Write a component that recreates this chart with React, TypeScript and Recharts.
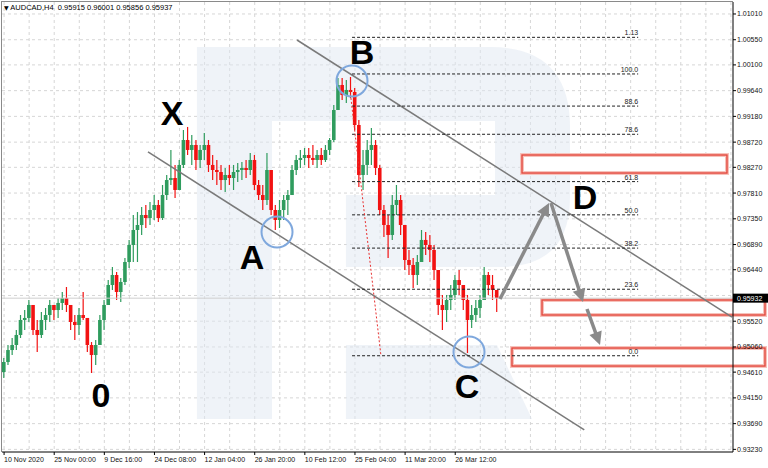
import React from 'react';
import {
  ComposedChart,
  Bar,
  XAxis,
  YAxis,
  CartesianGrid,
  ReferenceLine,
  ReferenceDot,
  ReferenceArea,
} from 'recharts';

const FONT = '"Liberation Sans", Arial, sans-serif';
const RED = '#f21212';
const GREEN = '#2f9c5e';
const ARROW = '#8a8a8a';

// ---- candle data (each candle aggregates several H4 bars) ----
const firstOpen = 0.94612;
const closes = [
  0.94791, 0.95005, 0.95095, 0.95274, 0.95542, 0.95578, 0.9581, 0.95363, 0.95274, 0.95542,
  0.95631, 0.9581, 0.9572, 0.95846, 0.95935, 0.9581, 0.95506, 0.95452, 0.95631, 0.95578,
  0.95095, 0.94916, 0.95095, 0.95542, 0.9581, 0.96167, 0.96346, 0.96042, 0.96221, 0.96578,
  0.96882, 0.9715, 0.97239, 0.97418, 0.97364, 0.97507, 0.97597, 0.97364, 0.97775, 0.98043,
  0.98079, 0.97865, 0.98312, 0.98758, 0.9858, 0.98669, 0.98401, 0.9858, 0.98669, 0.98312,
  0.98222, 0.98186, 0.98043, 0.98133, 0.98079, 0.98186, 0.98222, 0.98258, 0.98222, 0.98401,
  0.97954, 0.97775, 0.97686, 0.98222, 0.97507, 0.97329, 0.97507, 0.97686, 0.97775, 0.98222,
  0.98401, 0.98437, 0.9849, 0.98437, 0.98401, 0.9849, 0.98401, 0.9858, 0.98758, 0.99294,
  0.99741, 0.99562, 0.99652, 0.99616, 0.99026, 0.98133, 0.98312, 0.9858, 0.98669, 0.98258,
  0.97507, 0.97239, 0.97061, 0.97597, 0.97686, 0.97239, 0.96614, 0.96525, 0.96346, 0.96578,
  0.96972, 0.96882, 0.96793, 0.96435, 0.9581, 0.9572, 0.95899, 0.95989, 0.96256, 0.96167,
  0.95899, 0.95542, 0.95631, 0.95756, 0.95899, 0.96346, 0.96167, 0.96078, 0.95937,
];
const highs = [
  0.94863, 0.95095, 0.9522, 0.95363, 0.95631, 0.9572, 0.95899, 0.95756, 0.95542, 0.95685,
  0.95756, 0.95899, 0.9581, 0.95935, 0.96042, 0.96131, 0.9581, 0.95631, 0.95756, 0.96042,
  0.95578, 0.95148, 0.95184, 0.95631, 0.95899, 0.96256, 0.96489, 0.96399, 0.96292, 0.9665,
  0.96972, 0.97418, 0.97471, 0.97561, 0.97597, 0.9765, 0.97775, 0.97686, 0.97954, 0.98133,
  0.9858, 0.98312, 0.98401, 0.98937, 0.98991, 0.98848, 0.98758, 0.98669, 0.98883, 0.98758,
  0.9849, 0.98401, 0.98312, 0.98258, 0.98312, 0.98312, 0.98347, 0.98365, 0.98401, 0.98526,
  0.9849, 0.98043, 0.97954, 0.98526, 0.98222, 0.97597, 0.97686, 0.97775, 0.97865, 0.98312,
  0.9849, 0.9858, 0.98615, 0.98615, 0.98669, 0.9858, 0.98615, 0.98669, 0.98794, 0.99384,
  0.99866, 0.99866, 0.9983, 0.99884, 0.99687, 0.99116, 0.9858, 0.98758, 0.98973, 0.98758,
  0.98312, 0.97597, 0.97418, 0.97775, 0.97954, 0.97775, 0.97239, 0.96793, 0.9665, 0.96703,
  0.9715, 0.97114, 0.97061, 0.96882, 0.96435, 0.95989, 0.95989, 0.96167, 0.96346, 0.96435,
  0.96167, 0.95989, 0.9581, 0.95899, 0.95989, 0.96489, 0.96399, 0.96346, 0.96078,
];
const lows = [
  0.94505, 0.94738, 0.94916, 0.95005, 0.9522, 0.95363, 0.95506, 0.95274, 0.9497, 0.9522,
  0.95363, 0.95506, 0.95542, 0.95578, 0.9572, 0.95685, 0.95363, 0.95184, 0.95274, 0.95542,
  0.9497, 0.94595, 0.94738, 0.95095, 0.95363, 0.9581, 0.96078, 0.95899, 0.95863, 0.96167,
  0.96471, 0.96578, 0.96578, 0.97061, 0.97186, 0.97239, 0.97329, 0.97293, 0.97329, 0.97686,
  0.97954, 0.97722, 0.97865, 0.98258, 0.9849, 0.98312, 0.98222, 0.98258, 0.98401, 0.98186,
  0.98043, 0.97954, 0.97865, 0.97829, 0.97954, 0.97865, 0.98008, 0.98043, 0.98079, 0.98133,
  0.97865, 0.97686, 0.97507, 0.97597, 0.97418, 0.9715, 0.97186, 0.97329, 0.97418, 0.97775,
  0.98133, 0.98258, 0.98312, 0.98258, 0.98312, 0.98258, 0.98312, 0.98365, 0.9849, 0.98722,
  0.99294, 0.99473, 0.99419, 0.99509, 0.98937, 0.97918, 0.97865, 0.98133, 0.98312, 0.98133,
  0.97418, 0.97025, 0.9665, 0.96972, 0.97418, 0.97061, 0.96435, 0.96346, 0.96114, 0.96167,
  0.96614, 0.96703, 0.96578, 0.96256, 0.95631, 0.95363, 0.95506, 0.9572, 0.95899, 0.95989,
  0.9572, 0.94952, 0.95399, 0.95506, 0.95578, 0.95899, 0.95989, 0.95899, 0.95685,
];

// ---- axes ----
const xTickIdx = [0, 12, 24, 36, 48, 60, 72, 84, 96, 108];
const xTickLabels = [
  '10 Nov 2020', '25 Nov 00:00', '9 Dec 16:00', '24 Dec 08:00', '12 Jan 04:00',
  '26 Jan 20:00', '10 Feb 12:00', '25 Feb 04:00', '11 Mar 20:00', '26 Mar 12:00',
];
const gridX = [0, 6, 12, 18, 24, 30, 36, 42, 48, 54, 60, 66, 72, 78, 84, 90, 96, 102, 108, 114, 120, 126, 132, 138, 144, 150, 156, 162, 168, 174];
const yTicks = [
  1.0101, 1.0055, 1.001, 0.9964, 0.9918, 0.9872, 0.9827, 0.9781, 0.9735,
  0.9689, 0.9644, 0.9552, 0.9506, 0.9461, 0.9415, 0.9369, 0.9323,
];
const gridY = [...yTicks, 0.9598];
const currentPrice = 0.95932;
const xDomain: [number, number] = [-0.5, 174.5];
const yDomain: [number, number] = [0.93183, 1.01224];

// ---- analysis overlays (data coordinates: candle index, price) ----
const fibRatios = [1.13, 1.0, 0.886, 0.786, 0.618, 0.5, 0.382, 0.236, 0.0];
const fibLabels = ['1.13', '100.0', '88.6', '78.6', '61.8', '50.0', '38.2', '23.6', '0.0'];
const fibZero = 0.94903;
const fibHundred = 0.99938;
const fibStartIdx = 83.3;
const fibEndIdx = 151.8;

const trendLines = [
  { x1: 34.45, y1: 0.98544, x2: 138.9, y2: 0.9358 },
  { x1: 70.12, y1: 1.00545, x2: 174.26, y2: 0.95595 },
];
const fibDiagonal = { x1: 82.8, y1: 0.99652, x2: 90.23, y2: 0.94898 };
const arrows = [
  { x1: 118.72, y1: 0.95917, x2: 130.45, y2: 0.97632 },
  { x1: 130.93, y1: 0.97632, x2: 138.59, y2: 0.95863 },
  { x1: 139.55, y1: 0.95738, x2: 142.66, y2: 0.95095 },
];
const zones = [
  { x1: 123.99, x2: 173.06, y1: 0.98168, y2: 0.9849 },
  { x1: 128.78, x2: 182.16, y1: 0.95631, y2: 0.95899 },
  { x1: 121.59, x2: 182.16, y1: 0.94719, y2: 0.95041 },
];
const circles = [
  { x: 65.34, y: 0.97114 },
  { x: 83.29, y: 0.99813 },
  { x: 111.3, y: 0.9497 },
];
const waveLabels = [
  { t: '0', x: 23.2, y: 0.94201 },
  { t: 'X', x: 40.2, y: 0.99241 },
  { t: 'A', x: 59.35, y: 0.96667 },
  { t: 'B', x: 85.68, y: 1.00331 },
  { t: 'C', x: 110.82, y: 0.94362 },
  { t: 'D', x: 139.07, y: 0.9774 },
];
const logoBox = { x1: 46.18, x2: 135.48, y1: 0.93772, y2: 1.0042 };

const rows = closes.map((c, i) => {
  const open = i === 0 ? firstOpen : closes[i - 1];
  const high = Math.max(highs[i], open, c);
  const low = Math.min(lows[i], open, c);
  return { i, open, close: c, high, low, range: [low, high] };
});

function Candle(props: any) {
  const { x, y, width, height, payload } = props;
  if (!payload || x == null) return null;
  const top = Math.min(y, y + height);
  const h = Math.abs(height);
  const { open, close, high, low } = payload;
  const k = high - low > 0 ? h / (high - low) : 0;
  const yo = top + (high - open) * k;
  const yc = top + (high - close) * k;
  const color = close >= open ? GREEN : RED;
  const cx = x + width / 2;
  const bt = Math.min(yo, yc);
  const bh = Math.max(1, Math.abs(yc - yo));
  return (
    <g>
      <line x1={cx} x2={cx} y1={top} y2={top + h} stroke={color} strokeWidth={1.2} />
      <rect x={x} y={bt} width={width} height={bh} fill={color} />
    </g>
  );
}

function XTick(props: any) {
  const { x, y, payload } = props;
  const idx = xTickIdx.indexOf(payload.value);
  return (
    <text x={x} y={y + 7} textAnchor="start" fontSize={7} fontFamily={FONT} fill="#111">
      {idx >= 0 ? xTickLabels[idx] : ''}
    </text>
  );
}

function YTick(props: any) {
  const { x, y, payload } = props;
  const v = payload.value as number;
  if (Math.abs(v - currentPrice) < 1e-7) {
    return (
      <g>
        <rect x={x - 4} y={y - 4.5} width={36} height={9} fill="#000" />
        <text x={x} y={y + 2.5} fontSize={7} fontFamily={FONT} fill="#fff">
          {v.toFixed(5)}
        </text>
      </g>
    );
  }
  return (
    <text x={x} y={y + 2.5} fontSize={7} fontFamily={FONT} fill="#111">
      {v.toFixed(5)}
    </text>
  );
}

function arrowShape(p: any) {
  const { x1, y1, x2, y2 } = p;
  const dx = x2 - x1;
  const dy = y2 - y1;
  const len = Math.hypot(dx, dy) || 1;
  const ux = dx / len;
  const uy = dy / len;
  const hl = 13;
  const hw = 6.5;
  const bx = x2 - ux * hl;
  const by = y2 - uy * hl;
  const pts = `${x2},${y2} ${bx - uy * hw},${by + ux * hw} ${bx + uy * hw},${by - ux * hw}`;
  return (
    <g>
      <line x1={x1} y1={y1} x2={bx + ux * 2} y2={by + uy * 2} stroke={ARROW} strokeWidth={3.5} />
      <polygon points={pts} fill={ARROW} />
    </g>
  );
}

function zoneShape(p: any) {
  const { x, y, width, height } = p;
  return (
    <g>
      <rect x={x} y={y} width={width} height={height} fill="#fff" stroke="#f6c2bb" strokeWidth={4} />
      <rect x={x} y={y} width={width} height={height} fill="none" stroke="#e4493e" strokeWidth={1.4} />
    </g>
  );
}

function logoShape(p: any) {
  const { x, y, width, height } = p;
  const sx = width / 373;
  const sy = height / 372;
  return (
    <g transform={`translate(${x},${y}) scale(${sx},${sy})`}>
      <path
        d="M0,0 H293 Q373,0 373,80 V150 Q373,220 303,220 H149 V148 H298 V74 H75 V372 H0 Z M149,298 H300 L335,372 H149 Z"
        fill="#dfe7f2"
        fillOpacity={0.5}
      />
    </g>
  );
}

function fibLabel(text: string) {
  return (p: any) => {
    const vb = p.viewBox || {};
    return (
      <text x={vb.x + vb.width} y={vb.y - 2} textAnchor="end" fontSize={7} fontFamily={FONT} fill="#222">
        {text}
      </text>
    );
  };
}

function bigLetter(text: string) {
  return (p: any) => {
    const vb = p.viewBox || {};
    const cx = vb.x + vb.width / 2;
    const cy = vb.y + vb.height / 2;
    return (
      <text x={cx} y={cy + 12} textAnchor="middle" fontSize={34} fontWeight={700} fontFamily={FONT} fill="#000">
        {text}
      </text>
    );
  };
}

export default function App() {
  return (
    <div style={{ position: 'absolute', left: 0, top: 0, width: 768, height: 468, background: '#fff', overflow: 'hidden' }}>
      <ComposedChart
        width={768}
        height={468}
        data={rows}
        margin={{ top: 2, right: 0, bottom: 0, left: 2 }}
      >
        <CartesianGrid stroke="#d6d6d6" strokeDasharray="3 3" horizontalValues={gridY} verticalValues={gridX} />
        <XAxis
          dataKey="i"
          type="number"
          domain={xDomain}
          ticks={xTickIdx}
          interval={0}
          height={16}
          tickSize={3}
          tickMargin={0}
          tick={XTick}
          axisLine={{ stroke: '#000' }}
          tickLine={{ stroke: '#000' }}
          allowDataOverflow
        />
        <YAxis
          type="number"
          orientation="right"
          domain={yDomain}
          ticks={[...yTicks, currentPrice]}
          interval={0}
          width={35}
          tickSize={3}
          tickMargin={1}
          tick={YTick}
          axisLine={{ stroke: '#000' }}
          tickLine={{ stroke: '#000' }}
          allowDataOverflow
        />
        <ReferenceArea
          x1={logoBox.x1}
          x2={logoBox.x2}
          y1={logoBox.y1}
          y2={logoBox.y2}
          shape={logoShape}
          ifOverflow="visible"
        />
        <ReferenceLine y={currentPrice} stroke="#cfcfcf" strokeWidth={1} ifOverflow="visible" />
        {zones.map((z, k) => (
          <ReferenceArea key={'z' + k} x1={z.x1} x2={z.x2} y1={z.y1} y2={z.y2} shape={zoneShape} ifOverflow="visible" />
        ))}
        {trendLines.map((t, k) => (
          <ReferenceLine
            key={'t' + k}
            segment={[{ x: t.x1, y: t.y1 }, { x: t.x2, y: t.y2 }]}
            stroke="#7a7a7a"
            strokeWidth={1.5}
            ifOverflow="visible"
          />
        ))}
        {fibRatios.map((r, k) => {
          const price = fibZero + r * (fibHundred - fibZero);
          return (
            <ReferenceLine
              key={'f' + k}
              segment={[{ x: fibStartIdx, y: price }, { x: fibEndIdx, y: price }]}
              stroke="#222"
              strokeWidth={1}
              strokeDasharray="3 2"
              ifOverflow="visible"
              label={fibLabel(fibLabels[k])}
            />
          );
        })}
        <ReferenceLine
          segment={[{ x: fibDiagonal.x1, y: fibDiagonal.y1 }, { x: fibDiagonal.x2, y: fibDiagonal.y2 }]}
          stroke="#e83030"
          strokeWidth={1}
          strokeDasharray="2 2"
          ifOverflow="visible"
        />
        <Bar dataKey="range" barSize={3.6} shape={Candle} isAnimationActive={false} />
        {circles.map((c, k) => (
          <ReferenceDot key={'c' + k} x={c.x} y={c.y} r={15.5} fill="none" stroke="#7fa8dd" strokeWidth={2} ifOverflow="visible" />
        ))}
        {arrows.map((a, k) => (
          <ReferenceLine
            key={'a' + k}
            segment={[{ x: a.x1, y: a.y1 }, { x: a.x2, y: a.y2 }]}
            shape={arrowShape}
            ifOverflow="visible"
          />
        ))}
        {waveLabels.map((w, k) => (
          <ReferenceDot
            key={'w' + k}
            x={w.x}
            y={w.y}
            r={1}
            fill="none"
            stroke="none"
            ifOverflow="visible"
            label={bigLetter(w.t)}
          />
        ))}
      </ComposedChart>
      <div
        style={{
          position: 'absolute',
          left: 1,
          top: 1,
          width: 732,
          height: 451,
          borderLeft: '1px solid #8a8a8a',
          borderTop: '1px solid #8a8a8a',
          boxSizing: 'border-box',
          pointerEvents: 'none',
        }}
      />
      <div
        style={{
          position: 'absolute',
          left: 4,
          top: 3,
          fontFamily: FONT,
          fontSize: 7.5,
          lineHeight: '9px',
          color: '#000',
          whiteSpace: 'pre',
        }}
      >
        <span style={{ fontFamily: '"DejaVu Sans"', fontSize: 6 }}>▼</span>
        {' AUDCAD,H4  0.95915 0.96001 0.95856 0.95937'}
      </div>
    </div>
  );
}
